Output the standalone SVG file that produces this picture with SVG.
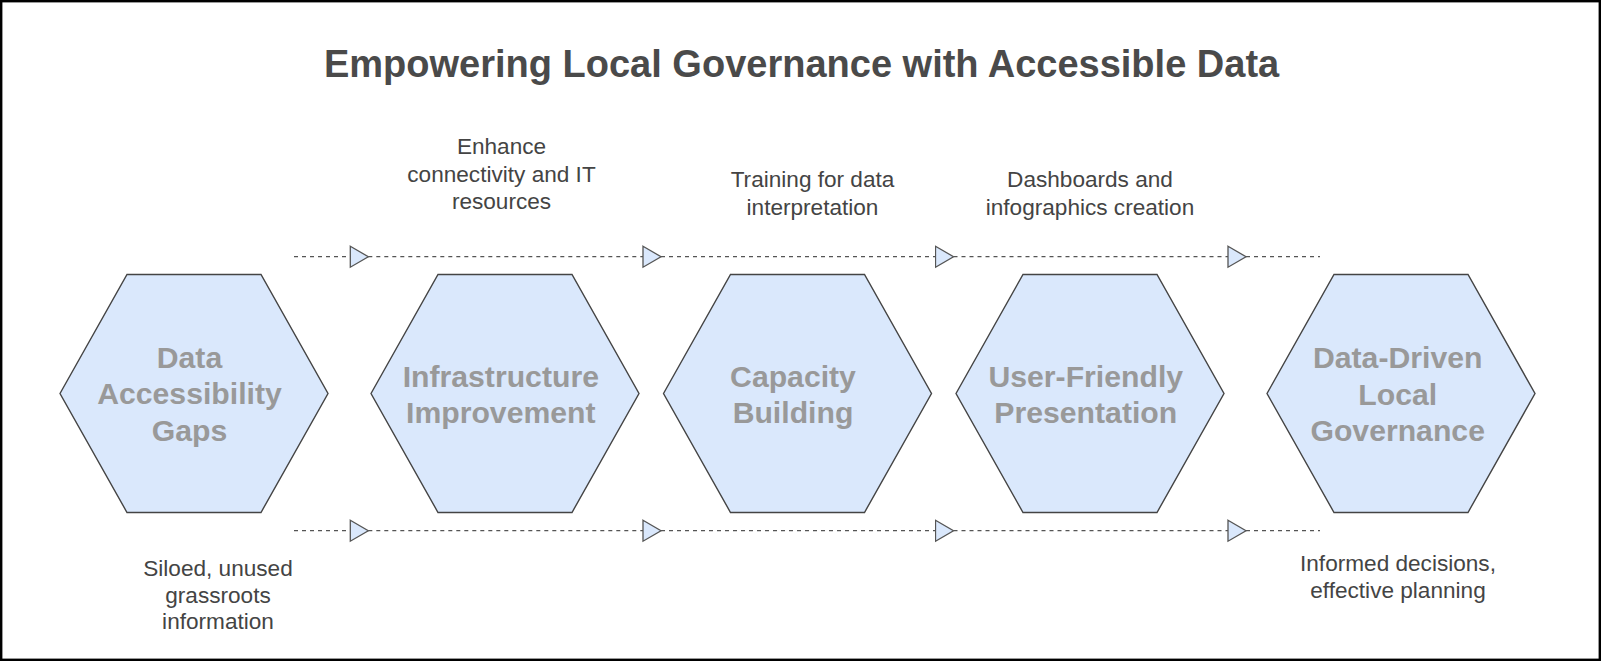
<svg xmlns="http://www.w3.org/2000/svg" width="1602" height="662" viewBox="0 0 1602 662">
  <defs>
    <style>
      .frame { fill: #ffffff; stroke: #000000; stroke-width: 2.4; }
      .title { font-family: "Liberation Sans", Arial, sans-serif; font-size: 38px; font-weight: bold; fill: #4a4a4a; text-anchor: middle; }
      .hex { fill: #dae8fc; stroke: #444444; stroke-width: 1.4; }
      .node-label { font-family: "Liberation Sans", Arial, sans-serif; font-size: 30.2px; font-weight: bold; fill: #999999; text-anchor: middle; }
      .note { font-family: "Liberation Sans", Arial, sans-serif; font-size: 22.6px; fill: #444444; text-anchor: middle; }
      .conn { fill: none; stroke: #555555; stroke-width: 1.2; stroke-dasharray: 4 4; }
    </style>
    <marker id="arrow" markerUnits="userSpaceOnUse" markerWidth="22" markerHeight="24" refX="19" refY="11.5" orient="auto">
      <path d="M1,1 L19,11.5 L1,22 Z" fill="#dae8fc" stroke="#555555" stroke-width="1.3" stroke-linejoin="miter"/>
    </marker>
  </defs>

  <rect class="frame" x="1.2" y="1.2" width="1598.6" height="658.6"/>

  <text class="title" x="801.6" y="77">Empowering Local Governance with Accessible Data</text>

  <g id="connectors">
    <line class="conn" x1="294" y1="256.7" x2="368.3" y2="256.7" marker-end="url(#arrow)"/>
    <line class="conn" x1="368.3" y1="256.7" x2="661" y2="256.7" marker-end="url(#arrow)"/>
    <line class="conn" x1="661" y1="256.7" x2="953.5" y2="256.7" marker-end="url(#arrow)"/>
    <line class="conn" x1="953.5" y1="256.7" x2="1246" y2="256.7" marker-end="url(#arrow)"/>
    <line class="conn" x1="1246" y1="256.7" x2="1320" y2="256.7"/>
    <line class="conn" x1="294" y1="530.7" x2="368.3" y2="530.7" marker-end="url(#arrow)"/>
    <line class="conn" x1="368.3" y1="530.7" x2="661" y2="530.7" marker-end="url(#arrow)"/>
    <line class="conn" x1="661" y1="530.7" x2="953.5" y2="530.7" marker-end="url(#arrow)"/>
    <line class="conn" x1="953.5" y1="530.7" x2="1246" y2="530.7" marker-end="url(#arrow)"/>
    <line class="conn" x1="1246" y1="530.7" x2="1320" y2="530.7"/>
  </g>

  <g id="node-data-accessibility-gaps">
    <polygon class="hex" points="60,393.5 127,274.5 261,274.5 328,393.5 261,512.5 127,512.5"/>
    <text class="node-label" x="189.5" y="368">Data</text>
    <text class="node-label" x="189.5" y="404">Accessibility</text>
    <text class="node-label" x="189.5" y="440.5">Gaps</text>
  </g>

  <g id="node-infrastructure-improvement">
    <polygon class="hex" points="371,393.5 438,274.5 572,274.5 639,393.5 572,512.5 438,512.5"/>
    <text class="node-label" x="500.8" y="386.7">Infrastructure</text>
    <text class="node-label" x="500.8" y="422.7">Improvement</text>
  </g>

  <g id="node-capacity-building">
    <polygon class="hex" points="663.5,393.5 730.5,274.5 864.5,274.5 931.5,393.5 864.5,512.5 730.5,512.5"/>
    <text class="node-label" x="793" y="386.7">Capacity</text>
    <text class="node-label" x="793" y="422.7">Building</text>
  </g>

  <g id="node-user-friendly-presentation">
    <polygon class="hex" points="956,393.5 1023,274.5 1157,274.5 1224,393.5 1157,512.5 1023,512.5"/>
    <text class="node-label" x="1085.8" y="386.7">User-Friendly</text>
    <text class="node-label" x="1085.8" y="422.7">Presentation</text>
  </g>

  <g id="node-data-driven-local-governance">
    <polygon class="hex" points="1267,393.5 1334,274.5 1468,274.5 1535,393.5 1468,512.5 1334,512.5"/>
    <text class="node-label" x="1397.7" y="368">Data-Driven</text>
    <text class="node-label" x="1397.7" y="404.5">Local</text>
    <text class="node-label" x="1397.7" y="441">Governance</text>
  </g>

  <g id="label-enhance">
    <text class="note" x="501.5" y="154.3">Enhance</text>
    <text class="note" x="501.5" y="181.8">connectivity and IT</text>
    <text class="note" x="501.5" y="209.3">resources</text>
  </g>

  <g id="label-training">
    <text class="note" x="812.5" y="186.5">Training for data</text>
    <text class="note" x="812.5" y="214.5">interpretation</text>
  </g>

  <g id="label-dashboards">
    <text class="note" x="1090" y="186.5">Dashboards and</text>
    <text class="note" x="1090" y="214.5">infographics creation</text>
  </g>

  <g id="label-siloed">
    <text class="note" x="218" y="575.6">Siloed, unused</text>
    <text class="note" x="218" y="602.5">grassroots</text>
    <text class="note" x="218" y="629.4">information</text>
  </g>

  <g id="label-informed">
    <text class="note" x="1398" y="570.7">Informed decisions,</text>
    <text class="note" x="1398" y="598">effective planning</text>
  </g>
</svg>
